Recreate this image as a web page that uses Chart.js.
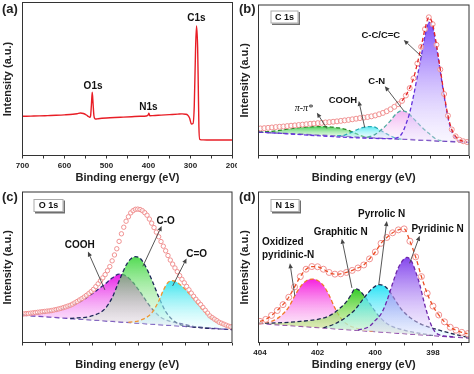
<!DOCTYPE html>
<html><head><meta charset="utf-8">
<script src="https://cdn.jsdelivr.net/npm/chart.js@4.4.1/dist/chart.umd.min.js"></script>
<style>
html,body{margin:0;padding:0;background:#fff;}
#wrap{position:relative;width:474px;height:374px;overflow:hidden;background:#fff;}
canvas{position:absolute;}
</style></head><body>
<div id="wrap">
<canvas id="ca" width="237" height="187" style="left:0;top:0"></canvas>
<canvas id="cb" width="237" height="187" style="left:237px;top:0"></canvas>
<canvas id="cc" width="237" height="187" style="left:0;top:187px"></canvas>
<canvas id="cd" width="237" height="187" style="left:237px;top:187px"></canvas>
</div>
<script>
// ---------- (a) survey spectrum ----------
const aEnergy = [700,680,660,640,620,600,580,570,562,555,548,543,540,538,536,534,532,530,528,526,520,500,480,460,440,420,405,401,399,397,390,370,350,330,320,312,307,302,298,294,291,288,285.7,283,281.5,280,278,270,250,200];
const aIntensity = [39.2,39.4,39.6,39.9,40.2,40.6,41.2,41.8,42.5,42.0,40.5,39.0,38.2,39.5,50.0,63.2,52.0,40.0,37.0,36.5,36.8,37.5,38.0,38.4,38.8,39.2,39.5,40.5,42.2,39.8,39.9,40.4,40.9,41.4,41.6,41.3,40.5,37.2,31.5,32.0,50.0,105.5,129.5,108,70,28.8,16.2,15.6,15.5,15.5];
const aTicks = [700,600,500,400,300,200];

// ---------- (b) C 1s ----------
const bEnergy = [293.6,293.4,293.2,293.0,292.8,292.6,292.4,292.2,292.0,291.8,291.6,291.4,291.2,291.0,290.8,290.6,290.4,290.2,290.0,289.8,289.6,289.4,289.2,289.0,288.8,288.6,288.4,288.2,288.0,287.8,287.6,287.4,287.2,287.0,286.8,286.6,286.4,286.2,286.0,285.8,285.6,285.4,285.2,285.0,284.8,284.6,284.4,284.2,284.0,283.8,283.6,283.4,283.2,283.0,282.8];
const bIntensity = [27.5,27.8,28.1,28.5,28.9,29.2,29.5,29.9,30.3,30.6,31.0,31.4,31.8,32.2,32.5,32.9,33.2,33.6,33.9,34.3,34.7,35.2,35.7,36.2,36.8,37.4,38.0,38.5,39.1,39.8,40.7,41.9,43.3,45.0,47.0,49.5,52.2,55.5,61.0,68.5,78.5,93.5,110.5,128.5,140.5,133.5,112.5,87.5,62.5,40.5,26.5,19.5,16.0,14.5,13.7];
const bBaseX = [293.7,282.7];
const bBaseY = [23.8,13.3];
const bCCx = [293.7,286.8,286.4,286.2,286.0,285.8,285.6,285.4,285.2,285.0,284.8,284.6,284.4,284.2,284.0,283.8,283.6,283.4,283.2,283.0,282.7];
const bCCy = [23.8,17.2,18.5,22.5,31.5,43.5,60.5,80.5,100.5,121.5,135.5,130.5,110.5,85.5,60.5,38.5,24.5,17.5,14.5,13.6,13.3];
const bCNx = [288.0,287.6,287.2,286.8,286.5,286.2,285.9,285.6,285.2,284.8,284.4,284.0];
const bCNy = [18.4,21.5,27.5,35.5,42.5,45.5,43.5,37.5,29.5,22.5,16.5,14.5];
const bCOOHx = [289.6,289.2,288.8,288.4,288.0,287.7,287.4,287.0,286.6,286.2];
const bCOOHy = [19.9,20.8,24.0,27.5,29.4,29.2,26.5,22.0,18.2,16.6];
const bPix = [293.7,293.0,292.5,292.0,291.5,291.0,290.5,290.0,289.5,289.0,288.6,288.2,287.8];
const bPiy = [23.8,24.6,25.9,27.4,28.5,29.2,29.4,29.1,28.0,25.6,22.2,19.2,18.2];

// ---------- (c) O 1s ----------
const cEnergy = [538.5,538.4,538.3,538.2,538.1,538.0,537.9,537.8,537.7,537.6,537.5,537.4,537.3,537.2,537.1,537.0,536.9,536.8,536.7,536.6,536.5,536.4,536.3,536.2,536.1,536.0,535.9,535.8,535.7,535.6,535.5,535.4,535.3,535.2,535.1,535.0,534.9,534.8,534.7,534.6,534.5,534.4,534.3,534.2,534.1,534.0,533.9,533.8,533.7,533.6,533.5,533.4,533.3,533.2,533.1,533.0,532.9,532.8,532.7,532.6,532.5,532.4,532.3,532.2,532.1,532.0,531.9,531.8,531.7,531.6,531.5,531.4,531.3,531.2,531.1,531.0,530.9,530.8,530.7,530.6,530.5,530.4,530.3,530.2,530.1,530.0,529.9,529.8,529.7,529.6];
const cIntensity = [29.0,29.3,29.5,29.8,30.1,30.4,30.7,31.0,31.3,31.6,31.9,32.1,32.5,33.0,33.5,34.1,34.7,35.4,36.2,37.0,37.8,39.0,40.3,41.7,43.2,44.6,46.2,47.9,49.8,51.8,54.0,56.8,59.7,62.7,65.7,69.0,73.0,77.2,83.0,89.0,95.3,102.8,110.5,117.2,123.3,127.8,131.8,134.0,135.4,135.6,135.2,134.0,132.0,129.4,125.5,121.3,116.8,112.2,107.5,102.6,97.9,93.2,88.4,83.8,79.7,75.8,72.0,68.0,64.3,60.7,57.0,53.6,50.2,47.0,44.0,41.2,38.6,35.7,32.8,29.9,27.0,25.3,23.7,22.2,20.6,19.6,18.6,17.6,16.6,16.0];
const cBaseX = [538.55,529.55];
const cBaseY = [27.8,13.2];
const cCOOHx = [538.55,537.5,537.0,536.5,536.0,535.5,535.0,534.7,534.4,534.1,533.8,533.5,533.2,532.9,532.6,532.2,531.8,531.0,529.55];
const cCOOHy = [27.8,30.5,33.0,37.0,42.5,50.5,59.5,65.5,69.5,67.5,61.0,51.5,41.0,32.0,25.5,21.5,19.5,15.5,13.2];
const cCOx = [536.5,535.5,535.0,534.7,534.4,534.1,533.9,533.7,533.5,533.3,533.0,532.7,532.4,532.1,531.8,531.4,530.5];
const cCOy = [24.4,27.5,34.5,45.5,62.5,78.5,85.0,87.2,85.5,79.0,64.0,46.5,31.5,23.0,18.5,16.4,14.7];
const cCdOx = [534.0,533.5,533.0,532.7,532.5,532.3,532.1,531.9,531.6,531.3,531.0,530.7,530.4,530.1,529.8,529.55];
const cCdOy = [20.4,22.5,30.0,42.0,53.0,61.0,62.8,61.0,55.0,47.0,38.5,30.5,24.0,19.5,16.5,14.8];

// ---------- (d) N 1s ----------
const dEnergy = [404.0,403.8,403.6,403.4,403.2,403.0,402.8,402.6,402.4,402.2,402.0,401.8,401.6,401.4,401.2,401.0,400.8,400.6,400.4,400.2,400.0,399.8,399.6,399.4,399.2,399.0,398.8,398.6,398.4,398.2,398.0,397.8,397.6,397.4,397.2,397.0,396.8];
const dIntensity = [21.5,23.5,27.5,32.5,38.5,46.0,56.5,67.0,74.5,77.2,77.0,74.5,71.2,69.5,69.8,71.2,73.3,75.8,78.8,85.0,92.0,100.8,106.8,111.5,114.5,115.5,103.0,87.0,67.0,50.0,37.0,28.0,21.0,15.5,12.5,10.3,9.0];
const dBaseX = [404.05,396.75];
const dBaseY = [19.5,4.5];
const dOxx = [404.05,403.6,403.3,403.0,402.8,402.6,402.4,402.2,402.0,401.8,401.6,401.4,401.2,401.0,400.6,400.0];
const dOxy = [19.5,21.5,26.5,36.0,47.0,56.5,62.5,64.5,63.0,58.0,48.0,35.0,25.0,19.0,14.0,11.2];
const dGrx = [404.05,403.2,402.6,402.0,401.6,401.3,401.0,400.85,400.7,400.55,400.4,400.2,400.0,399.8,399.5,399.0,398.5,398.0];
const dGry = [19.5,20.2,21.5,23.5,27.0,33.0,41.5,48.0,54.5,53.0,48.0,40.0,31.5,24.5,17.5,12.5,9.5,7.3];
const dPyrx = [401.8,401.4,401.0,400.7,400.4,400.1,399.85,399.6,399.35,399.1,398.8,398.4,397.9,397.4,396.75];
const dPyry = [15.0,19.0,26.0,33.5,45.0,55.0,58.8,55.5,45.0,34.0,25.5,18.5,13.5,9.5,5.0];
const dPydx = [400.6,400.2,400.0,399.8,399.6,399.4,399.2,399.0,398.9,398.75,398.6,398.45,398.3,398.15,398.0,397.8,397.3];
const dPydy = [12.5,16.5,22.5,29.0,42.0,60.0,76.0,85.0,86.5,83.0,72.0,58.0,40.0,25.0,14.0,8.0,5.8];

// ---------- helpers ----------
const FONT = '"Liberation Sans", Arial, Helvetica, sans-serif';
const pts = (xs, ys) => xs.map((x, i) => ({x, y: ys[i]}));

function grad(top, bottom) {
  return (c) => {
    const ch = c.chart;
    if (!ch.chartArea) return top;
    const ds = ch.data.datasets[c.datasetIndex];
    let mx = -1e9, mn = 1e9;
    ds.data.forEach(p => { if (p.y > mx) mx = p.y; if (p.y < mn) mn = p.y; });
    const ys = ch.scales.y;
    const y0 = ys.getPixelForValue(mx), y1 = ys.getPixelForValue(mn);
    const g = ch.ctx.createLinearGradient(0, y0, 0, Math.max(y1, y0 + 1));
    g.addColorStop(0, top); g.addColorStop(1, bottom);
    return g;
  };
}
function base(xs, ys, color) {
  return {data: pts(xs, ys), borderColor: color, borderWidth: 1.4, borderDash: [5, 3], pointRadius: 0, fill: false, order: 20};
}
function comp(xs, ys, line, top, bottom, order) {
  return {data: pts(xs, ys), borderColor: line, borderWidth: 1.3, borderDash: [4, 2.5], pointRadius: 0,
    fill: 0, backgroundColor: grad(top, bottom), cubicInterpolationMode: 'monotone', order};
}
function circles(xs, ys, r) {
  return {data: pts(xs, ys), showLine: false, pointRadius: r, pointBorderWidth: 1,
    pointBorderColor: 'rgb(240,145,145)', pointBackgroundColor: 'rgba(255,255,255,0.55)', order: 1};
}
function fitLine(xs, ys, color) {
  return {data: pts(xs, ys), borderColor: color, borderWidth: 1.3, borderDash: [4, 3], pointRadius: 0,
    fill: false, cubicInterpolationMode: 'monotone', order: 0};
}

function xScale(min, max, step, isLabel) {
  return {
    type: 'linear', min, max, reverse: true,
    ticks: {stepSize: step, autoSkip: false, maxRotation: 0, includeBounds: false, padding: 2, color: '#222',
      font: {family: FONT, size: 8, weight: 'bold'}, callback: (v) => isLabel(v) ? String(v) : ''},
    grid: {display: true, drawOnChartArea: false, drawTicks: true, tickLength: 3, color: '#333', lineWidth: 1},
    border: {display: false},
    title: {display: true, text: 'Binding energy (eV)', color: '#222',
      font: {family: FONT, size: 11, weight: 'bold'}, padding: {top: 0, bottom: 2.4}},
    afterFit: (s) => { s.height = 31.5; s.paddingLeft = 0; s.paddingRight = 0; }
  };
}
function yScale(w) {
  return {
    type: 'linear', min: 0, max: 153,
    ticks: {display: false}, grid: {display: false}, border: {display: false},
    title: {display: true, text: 'Intensity (a.u.)', color: '#222',
      font: {family: FONT, size: 11, weight: 'bold'}, padding: {top: 1.2, bottom: 0}},
    afterFit: (s) => { s.width = w; }
  };
}

function annot(spec) {
  return {
    id: 'annot',
    afterDatasetsDraw(chart) {
      const {ctx, chartArea: a} = chart;
      const X = chart.scales.x, Y = chart.scales.y;
      ctx.save();
      ctx.setLineDash([]);
      ctx.strokeStyle = '#333'; ctx.lineWidth = 1;
      ctx.strokeRect(a.left, a.top, a.right - a.left, a.bottom - a.top);
      ctx.strokeStyle = '#444'; ctx.fillStyle = '#444'; ctx.lineWidth = 0.9;
      (spec.arrows || []).forEach(ar => {
        const hx = X.getPixelForValue(ar[0]), hy = Y.getPixelForValue(ar[1]);
        const tx = X.getPixelForValue(ar[2]), ty = Y.getPixelForValue(ar[3]);
        const ang = Math.atan2(hy - ty, hx - tx), L = 5, W = 2.2;
        const bx = hx - L * Math.cos(ang), by = hy - L * Math.sin(ang);
        ctx.beginPath(); ctx.moveTo(tx, ty); ctx.lineTo(bx, by); ctx.stroke();
        ctx.beginPath(); ctx.moveTo(hx, hy);
        ctx.lineTo(bx - W * Math.sin(ang), by + W * Math.cos(ang));
        ctx.lineTo(bx + W * Math.sin(ang), by - W * Math.cos(ang));
        ctx.closePath(); ctx.fill();
      });
      ctx.fillStyle = '#111'; ctx.textBaseline = 'middle';
      (spec.labels || []).forEach(lb => {
        ctx.font = lb.font || spec.font; ctx.textAlign = lb.align || 'center';
        ctx.fillText(lb.text, X.getPixelForValue(lb.x), Y.getPixelForValue(lb.y));
      });
      if (spec.box) {
        const b = spec.box;
        ctx.fillStyle = '#6f6f6f'; ctx.fillRect(b.x + 1.5, b.y + 1.5, b.w, b.h);
        ctx.fillStyle = '#fff'; ctx.fillRect(b.x, b.y, b.w, b.h);
        ctx.strokeStyle = '#aaa'; ctx.lineWidth = 1; ctx.strokeRect(b.x + 0.5, b.y + 0.5, b.w - 1, b.h - 1);
        ctx.fillStyle = '#111'; ctx.font = 'bold 9px ' + FONT; ctx.textAlign = 'center';
        ctx.fillText(b.text, b.x + b.w / 2, b.y + b.h / 2 + 0.5);
      }
      ctx.fillStyle = '#222'; ctx.font = 'bold 13px ' + FONT; ctx.textAlign = 'left';
      ctx.fillText(spec.letter, 2, spec.letterY);
      ctx.restore();
    }
  };
}

function makeChart(id, datasets, xs, yw, spec) {
  return new Chart(document.getElementById(id), {
    type: 'line',
    data: {datasets},
    options: {
      responsive: false, animation: false, devicePixelRatio: 1,
      layout: {padding: {left: 0, right: 4.5, top: 2.5, bottom: 0}},
      plugins: {legend: {display: false}, tooltip: {enabled: false}},
      scales: {x: xs, y: yScale(yw)}
    },
    plugins: [annot(spec)]
  });
}

// (a)
makeChart('ca', [
  {data: pts(aEnergy, aIntensity), borderColor: 'rgb(232,30,38)', borderWidth: 1.4, pointRadius: 0,
   fill: false, cubicInterpolationMode: 'monotone'}
], xScale(200, 700, 50, v => aTicks.includes(v)), 22.5, {
  letter: '(a)', letterY: 9, font: 'bold 10px ' + FONT,
  labels: [{text: 'O1s', x: 532, y: 69.5}, {text: 'N1s', x: 400, y: 48.5}, {text: 'C1s', x: 285.7, y: 137.5}]
});

// (b)
makeChart('cb', [
  base(bBaseX, bBaseY, 'rgb(90,40,180)'),
  comp(bPix, bPiy, 'rgb(40,140,40)', 'rgba(40,200,60,0.85)', 'rgba(200,240,200,0.3)', 6),
  comp(bCOOHx, bCOOHy, 'rgb(40,170,180)', 'rgba(60,230,240,0.85)', 'rgba(220,250,255,0.3)', 5),
  comp(bCNx, bCNy, 'rgb(80,170,160)', 'rgba(235,140,235,0.65)', 'rgba(250,230,250,0.3)', 4),
  comp(bCCx, bCCy, 'rgb(100,50,220)', 'rgba(120,70,250,0.95)', 'rgba(235,225,255,0.3)', 3),
  circles(bEnergy, bIntensity, 2.5),
  fitLine(bEnergy.slice(37), bIntensity.slice(37), 'rgb(230,40,40)')
], xScale(282.7, 293.7, 1, v => Math.abs(v % 2) === 1), 21.5, {
  letter: '(b)', letterY: 9, font: 'bold 9.5px ' + FONT,
  box: {x: 33.5, y: 10.5, w: 28, h: 13, text: 'C 1s'},
  labels: [
    {text: 'C-C/C=C', x: 287.31, y: 122.5},
    {text: 'C-N', x: 287.52, y: 75.5},
    {text: 'COOH', x: 289.29, y: 56.5},
    {text: '\u03C0-\u03C0*', x: 291.33, y: 47.5, font: 'italic 10px "Liberation Serif", serif'}
  ],
  arrows: [[286.11, 117.5, 285.17, 100.5], [287.1, 70.5, 286.11, 45.5], [288.46, 55.5, 288.15, 28.5], [290.65, 43.5, 290.13, 27.5]]
});

// (c)
makeChart('cc', [
  base(cBaseX, cBaseY, 'rgb(80,40,170)'),
  comp(cCOOHx, cCOOHy, 'rgb(50,40,120)', 'rgba(230,20,230,0.95)', 'rgba(250,220,250,0.4)', 5),
  comp(cCOx, cCOy, 'rgb(30,40,90)', 'rgba(40,210,40,0.8)', 'rgba(235,250,235,0.35)', 4),
  comp(cCdOx, cCdOy, 'rgb(240,150,50)', 'rgba(40,225,235,0.9)', 'rgba(230,255,255,0.4)', 3),
  circles(cEnergy, cIntensity, 2.2)
], xScale(529.55, 538.55, 1, v => v % 2 === 0), 22.5, {
  letter: '(c)', letterY: 10, font: 'bold 10px ' + FONT,
  box: {x: 33.5, y: 12, w: 30, h: 13, text: 'O 1s'},
  labels: [{text: 'COOH', x: 536.09, y: 98.5}, {text: 'C-O', x: 532.4, y: 123.5}, {text: 'C=O', x: 531.07, y: 89.5}],
  arrows: [[535.74, 92.5, 535.01, 53.5], [532.57, 118.5, 533.38, 77.5], [531.5, 85.5, 532.1, 57.5]]
});

// (d)
makeChart('cd', [
  base(dBaseX, dBaseY, 'rgb(130,50,160)'),
  comp(dOxx, dOxy, 'rgb(240,120,40)', 'rgba(245,20,220,0.95)', 'rgba(250,220,245,0.4)', 6),
  comp(dGrx, dGry, 'rgb(30,40,80)', 'rgba(40,200,30,0.95)', 'rgba(230,245,150,0.5)', 5),
  comp(dPyrx, dPyry, 'rgb(30,40,80)', 'rgba(30,225,245,0.95)', 'rgba(230,250,255,0.4)', 4),
  comp(dPydx, dPydy, 'rgb(110,40,170)', 'rgba(125,60,235,0.95)', 'rgba(240,230,255,0.4)', 3),
  circles(dEnergy, dIntensity, 3),
  fitLine(dEnergy, dIntensity, 'rgb(235,80,40)')
], xScale(396.75, 404.05, 1, v => v % 2 === 0), 21.5, {
  letter: '(d)', letterY: 10, font: 'bold 10px ' + FONT,
  box: {x: 33.5, y: 12, w: 29, h: 13, text: 'N 1s'},
  labels: [
    {text: 'Oxidized', x: 403.93, y: 101.5, align: 'left'},
    {text: 'pyridinic-N', x: 403.93, y: 88.5, align: 'left'},
    {text: 'Graphitic N', x: 401.2, y: 112.5},
    {text: 'Pyrrolic N', x: 399.78, y: 130.5},
    {text: 'Pyridinic N', x: 397.84, y: 115.5}
  ],
  arrows: [[402.96, 80.5, 402.79, 47.5], [401.16, 105.5, 400.81, 55.5], [399.6, 123.5, 399.88, 58.5], [398.46, 108.5, 398.81, 80.5]]
});
</script>
</body></html>
